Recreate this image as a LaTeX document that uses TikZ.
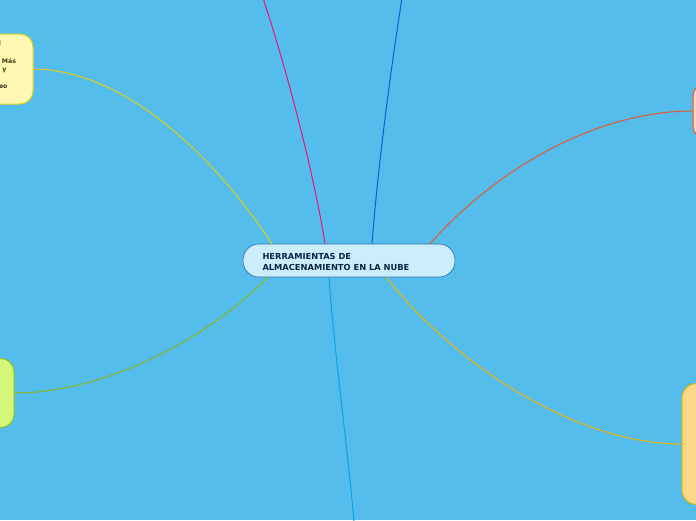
\documentclass[tikz,border=0pt]{standalone}
\usepackage{fontspec}
\setmainfont{DejaVu Sans}
\definecolor{sky}{HTML}{55BDEB}
\definecolor{ink}{HTML}{0B2545}
\definecolor{leafink}{HTML}{3A3A12}
\definecolor{hubline}{HTML}{2A6FB0}
\definecolor{hubfill}{HTML}{CBEDFC}
\definecolor{notesline}{HTML}{E2CF12}
\definecolor{notesfill}{HTML}{FFF8B4}
\definecolor{driveline}{HTML}{E8572A}
\definecolor{drivefill}{HTML}{F9D3C0}
\definecolor{boxline}{HTML}{F2B400}
\definecolor{boxfill}{HTML}{FFD98A}
\definecolor{megaline}{HTML}{8AC21A}
\definecolor{megafill}{HTML}{D4F77A}
\definecolor{pinkline}{HTML}{E6157A}
\definecolor{blueline}{HTML}{0B5FD6}
\definecolor{cyanline}{HTML}{0AA0E6}
\definecolor{greenline}{HTML}{8AB51A}
\begin{document}
\begin{tikzpicture}[x=1pt, y=-1pt, line width=1pt,
  hub/.style={rounded corners=16pt, draw=hubline, fill=hubfill, line width=.6pt,
    minimum width=212pt, minimum height=33pt, inner sep=0pt},
  leaf/.style={rounded corners=13pt, line width=1pt, inner sep=0pt}]
\clip (0,0) rectangle (696,520);
\fill [sky] (0,0) rectangle (696,520);
\begin{scope}[every node/.style={font=\bfseries}]
\node [hub](hub) at (349,260.5) {};
\node [anchor=west, align=left, text=ink, inner sep=0pt, font=\fontsize{8.3}{11}\selectfont\bfseries](title) at (262,261.5) {HERRAMIENTAS DE\\ALMACENAMIENTO EN LA NUBE};
\node [leaf, draw=notesline, fill=notesfill, minimum width=80pt, minimum height=70pt](notes) at (-7,69) {};
\node [leaf, draw=driveline, fill=drivefill, minimum width=40pt, minimum height=56pt](drive) at (713,111) {};
\node [leaf, draw=boxline, fill=boxfill, minimum width=60pt, minimum height=121pt, rounded corners=15pt](box) at (712,444) {};
\node [leaf, draw=megaline, fill=megafill, minimum width=50pt, minimum height=69pt](mega) at (-11,393) {};
\end{scope}
\begin{scope}[every node/.style={font=\fontsize{6.2}{7}\selectfont\bfseries, text=leafink, inner sep=0pt, anchor=east}]
\node (n1) at (1.5,43) {l};
\node (n2) at (16.5,61) {Más};
\node (n3) at (7,70) {y};
\node (n4) at (8,86.5) {eo};
\end{scope}
\coordinate (top1) at (263,-2);
\coordinate (top2) at (402,-2);
\coordinate (bottom) at (354,522);
\draw [pinkline] (top1) .. controls (290,80) and (315,180) .. ([xshift=-24pt]hub.north);
\draw [blueline] (top2) .. controls (386,100) and (376,190) .. ([xshift=23pt]hub.north);
\draw [driveline] ([xshift=81pt]hub.north) .. controls (500,165) and (600,111) .. (drive.west);
\draw [notesline] (notes.east) .. controls (130,70) and (220,165) .. ([xshift=-77pt]hub.north);
\draw [greenline] ([xshift=-81pt]hub.south) .. controls (200,345) and (100,393) .. (mega.east);
\draw [cyanline] ([xshift=-20pt]hub.south) .. controls (335,360) and (348,450) .. (bottom);
\draw [boxline] ([xshift=37pt]hub.south) .. controls (460,370) and (580,444) .. (box.west);
\end{tikzpicture}
\end{document}
